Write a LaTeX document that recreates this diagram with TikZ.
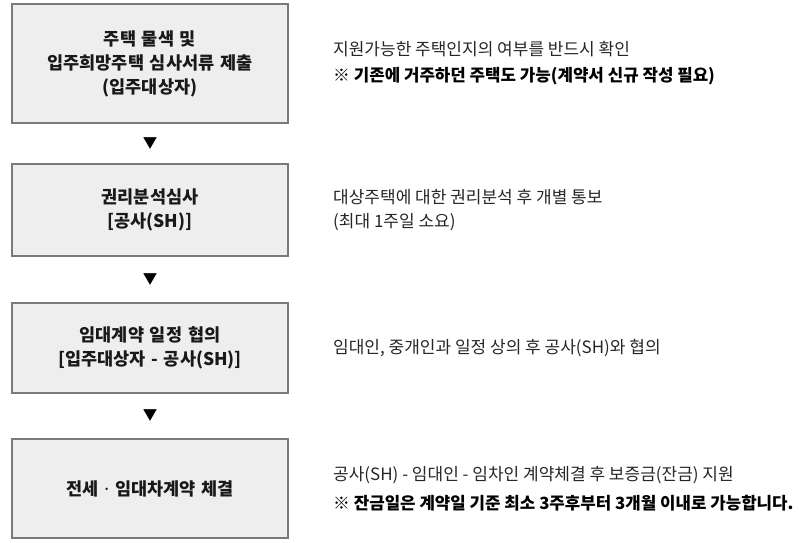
\documentclass[tikz,border=0pt]{standalone}
\usepackage{fontspec}
\setmainfont{Noto Sans CJK KR}
\newfontfamily\latinfont{Noto Sans}
\usetikzlibrary{positioning, calc}
\definecolor{boxfill}{HTML}{EEEEEE}
\definecolor{boxline}{HTML}{7A7A7A}
\tikzset{
    stepbox/.style = {draw=boxline, line width=2pt, fill=boxfill,
        minimum width=276pt, text width=260pt, inner sep=0pt, align=center,
        text=black!90, font=\bfseries\fontsize{17.5}{24}\selectfont},
    note/.style = {inner sep=0pt, align=left, text=black!85,
        font=\fontsize{17}{25}\selectfont},
    marker/.style = {inner sep=0pt, text=black, font=\fontsize{14.5}{14.5}\selectfont},
}
\newcommand{\notebold}[1]{{\bfseries\color{black}\fontsize{16.8}{25}\selectfont #1}}
\begin{document}
\begin{tikzpicture}[x=1pt, y=-1pt]
        \useasboundingbox (0,0) rectangle (800,542);
        \node (b1) [stepbox, minimum height=119pt] at (150,63.5)
            {주택 물색 및\\입주희망주택 심사서류 제출\\(입주대상자)};
        \node (b2) [stepbox, minimum height=92pt, below=39pt of b1]
            {권리분석심사\\{[}공사(SH){]}};
        \node (b3) [stepbox, minimum height=90pt, below=45pt of b2]
            {임대계약 일정 협의\\{[}입주대상자 - 공사(SH){]}};
        \node (b4) [stepbox, minimum height=99pt, below=44pt of b3]
            {전세 {\latinfont ·} 임대차계약 체결};
        % markers between the steps
        \node (m1) [marker] at ($(b1.south)!0.5!(b2.north)$) {▼};
        \node (m2) [marker] at ($(b2.south)!0.5!(b3.north)$) {▼};
        \node (m3) [marker] at ($(b3.south)!0.5!(b4.north)$) {▼};
        % notes to the right
        \node (n1) [note, right=44pt of b1]
            {지원가능한 주택인지의 여부를 반드시 확인\\[1pt]
            \notebold{※ 기존에 거주하던 주택도 가능(계약서 신규 작성 필요)}};
        \node (n2) [note, right=44pt of b2]
            {대상주택에 대한 권리분석 후 개별 통보\\[-1pt](최대 1주일 소요)};
        \node (n3) [note, right=44pt of b3]
            {임대인, 중개인과 일정 상의 후 공사(SH)와 협의};
        \node (n4) [note, right=44pt of b4]
            {공사(SH) - 임대인 - 임차인 계약체결 후 보증금(잔금) 지원\\[4pt]
            \notebold{※ 잔금일은 계약일 기준 최소 3주후부터 3개월 이내로 가능합니다.}};
\end{tikzpicture}
\end{document}
